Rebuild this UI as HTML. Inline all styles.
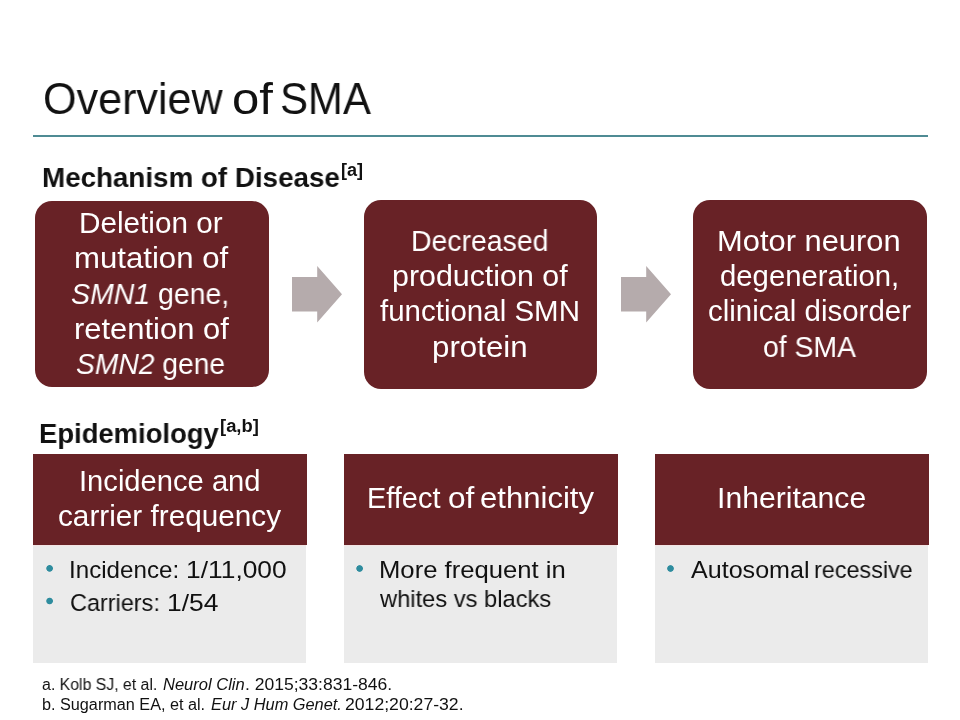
<!DOCTYPE html>
<html lang="en">
<head>
<meta charset="utf-8">
<title>Overview of SMA</title>
<style>
  html, body { margin: 0; padding: 0; background: #fff; }
  body { width: 960px; height: 720px; overflow: hidden; }
  .slide { position: relative; width: 960px; height: 720px; background: #fff; overflow: hidden;
           font-family: "Liberation Sans", sans-serif; color: #111; }
  .slide h1, .slide h2, .slide p, .slide ul, .slide li, .slide header, .slide footer { margin: 0; padding: 0; font-weight: 400; }
  .ln { position: absolute; display: block; white-space: nowrap; line-height: 1; transform-origin: 0 0; will-change: transform; }
  h1.ln { color: #111; }
  h2 .ln { font-weight: 700; }
  h2 sup.ln { vertical-align: baseline; }
  .rule { position: absolute; left: 33px; top: 135px; width: 895px; height: 2px; background: #4f8b94; }
  .box { position: absolute; background: #682226; border-radius: 17px; color: #fff; }
  .arrow { position: absolute; display: block; }
  .panel { position: absolute; top: 454px; width: 274px; height: 208.5px; }
  .panel header { position: absolute; left: 0; top: 0; width: 274px; height: 91px; background: #682226; color: #fff; }
  .panel ul { position: absolute; left: 0; top: 91px; width: 273px; height: 117.5px; background: #ebebeb; list-style: none; border-top: 1px solid #f3e4e4; box-sizing: border-box; }
  .panel li i.dot { position: absolute; width: 10px; height: 10px; }
  footer .ln { color: #111; }
</style>
</head>
<body>
<main class="slide">
  <h1><span class="ln" style="left:43.24px;top:76.70px;font-size:44.0px;transform:scaleX(0.9802)">Overview </span><span class="ln" style="left:231.55px;top:76.70px;font-size:44.0px;transform:scaleX(1.1143)">of </span><span class="ln" style="left:279.99px;top:76.70px;font-size:44.0px;transform:scaleX(0.9534)">SMA</span></h1>
  <div class="rule"></div>

  <h2><span class="ln" style="left:41.74px;top:163.30px;font-size:28.4px;transform:scaleX(0.9778)">Mechanism of Disease</span><sup class="ln" style="left:341.30px;top:161.00px;font-size:18.0px;transform:scaleX(1.005)">[a]</sup></h2>
  <section>
    <div class="box" style="left:35px;top:201px;width:234px;height:186px">
      <p class="ln" style="left:43.58px;top:8.30px;font-size:28.8px;transform:scaleX(1.0315)">Deletion or</p>
      <p class="ln" style="left:38.64px;top:43.40px;font-size:28.8px;transform:scaleX(1.0819)">mutation of</p>
      <p class="ln" style="left:36.46px;top:78.70px;font-size:28.8px;transform:scaleX(0.9888)"><i>SMN1</i> gene,</p>
      <p class="ln" style="left:39.45px;top:113.70px;font-size:28.8px;transform:scaleX(1.0739)">retention of</p>
      <p class="ln" style="left:40.66px;top:148.60px;font-size:28.8px;transform:scaleX(0.9807)"><i>SMN2</i> gene</p>
    </div>
    <svg class="arrow" style="left:292px;top:265px" width="52" height="59" viewBox="0 0 52 59" aria-hidden="true"><polygon points="0,12 25.2,12 25.2,0.9 50,29.2 25.2,57.6 25.2,46.5 0,46.5" fill="#b5abac"/></svg>
    <div class="box" style="left:364px;top:200px;width:233px;height:189px">
      <p class="ln" style="left:46.98px;top:27.20px;font-size:28.8px;transform:scaleX(0.9871)">Decreased</p>
      <p class="ln" style="left:28.19px;top:62.40px;font-size:28.8px;transform:scaleX(1.0547)">production of</p>
      <p class="ln" style="left:15.89px;top:97.20px;font-size:28.8px;transform:scaleX(1.0239)">functional SMN</p>
      <p class="ln" style="left:68.43px;top:132.70px;font-size:28.8px;transform:scaleX(1.0861)">protein</p>
    </div>
    <svg class="arrow" style="left:621px;top:265px" width="52" height="59" viewBox="0 0 52 59" aria-hidden="true"><polygon points="0,12 25.2,12 25.2,0.9 50,29.2 25.2,57.6 25.2,46.5 0,46.5" fill="#b5abac"/></svg>
    <div class="box" style="left:693px;top:200px;width:234px;height:189px">
      <p class="ln" style="left:24.19px;top:27.20px;font-size:28.8px;transform:scaleX(1.072)">Motor neuron</p>
      <p class="ln" style="left:27.33px;top:62.40px;font-size:28.8px;transform:scaleX(1.0177)">degeneration,</p>
      <p class="ln" style="left:15.32px;top:97.20px;font-size:28.8px;transform:scaleX(1.0226)">clinical disorder</p>
      <p class="ln" style="left:70.37px;top:132.70px;font-size:28.8px;transform:scaleX(0.9839)">of SMA</p>
    </div>
  </section>

  <h2><span class="ln" style="left:38.67px;top:419.10px;font-size:28.4px;transform:scaleX(0.9658)">Epidemiology</span><sup class="ln" style="left:219.78px;top:416.90px;font-size:18.0px;transform:scaleX(1.0222)">[a,b]</sup></h2>
  <section>
    <article class="panel" style="left:33px">
      <header>
      <p class="ln" style="left:46.02px;top:12.90px;font-size:28.8px;transform:scaleX(1.0123)">Incidence and</p>
      <p class="ln" style="left:25.41px;top:47.60px;font-size:28.8px;transform:scaleX(1.0324)">carrier frequency</p>
      </header>
      <ul>
        <li><i class="dot" style="left:11px;top:17px;background:radial-gradient(circle at 5.6px 5.4px, #2e8c9e 2.9px, rgba(46,140,158,0) 3.7px)"></i><span class="ln" style="left:36.24px;top:12.30px;font-size:24.1px;transform:scaleX(1.0024)">Incidence: </span><span class="ln" style="left:153.38px;top:12.30px;font-size:24.1px;transform:scaleX(1.0947)">1/11,000</span></li>
        <li><i class="dot" style="left:11px;top:50px;background:radial-gradient(circle at 5.6px 5.0px, #2e8c9e 2.9px, rgba(46,140,158,0) 3.7px)"></i><span class="ln" style="left:36.68px;top:45.00px;font-size:24.1px;transform:scaleX(0.973)">Carriers: </span><span class="ln" style="left:134.28px;top:45.00px;font-size:24.1px;transform:scaleX(1.0966)">1/54</span></li>
      </ul>
    </article>
    <article class="panel" style="left:344px">
      <header>
      <p class="ln" style="left:22.64px;top:29.80px;font-size:28.8px;transform:scaleX(1.0049)">Effect </p>
      <p class="ln" style="left:103.63px;top:29.80px;font-size:28.8px;transform:scaleX(1.0989)">of </p>
      <p class="ln" style="left:136.15px;top:29.80px;font-size:28.8px;transform:scaleX(1.0791)">ethnicity</p>
      </header>
      <ul>
        <li><i class="dot" style="left:10px;top:17px;background:radial-gradient(circle at 5.6px 5.5px, #2e8c9e 2.9px, rgba(46,140,158,0) 3.7px)"></i><span class="ln" style="left:34.97px;top:12.30px;font-size:24.1px;transform:scaleX(1.0645)">More frequent in </span><span class="ln" style="left:36.20px;top:41.30px;font-size:24.1px;transform:scaleX(0.9835)">whites vs blacks</span></li>
      </ul>
    </article>
    <article class="panel" style="left:655px">
      <header>
      <p class="ln" style="left:62.22px;top:30.10px;font-size:28.8px;transform:scaleX(1.0469)">Inheritance</p>
      </header>
      <ul>
        <li><i class="dot" style="left:10px;top:17px;background:radial-gradient(circle at 5.5px 5.5px, #2e8c9e 2.9px, rgba(46,140,158,0) 3.7px)"></i><span class="ln" style="left:35.60px;top:12.30px;font-size:24.1px;transform:scaleX(1.0414)">Autosomal </span><span class="ln" style="left:158.54px;top:12.30px;font-size:24.1px;transform:scaleX(0.9703)">recessive</span></li>
      </ul>
    </article>
  </section>

  <footer>
    <p><span class="ln" style="left:41.96px;top:676.60px;font-size:16.0px;transform:scaleX(0.9899)">a. Kolb SJ, et al. </span><span class="ln" style="left:162.78px;top:676.60px;font-size:16.0px;transform:scaleX(1.0321)"><i>Neurol Clin</i></span><span class="ln" style="left:245.06px;top:676.60px;font-size:16.0px;transform:scaleX(1.0956)">. 2015;33:831-846.</span></p>
    <p><span class="ln" style="left:41.69px;top:696.70px;font-size:16.0px;transform:scaleX(1.0132)">b. Sugarman EA, et al. </span><span class="ln" style="left:211.19px;top:696.70px;font-size:16.0px;transform:scaleX(1.0223)"><i>Eur J Hum Genet.</i> </span><span class="ln" style="left:345.47px;top:696.70px;font-size:16.0px;transform:scaleX(1.1014)">2012;20:27-32.</span></p>
  </footer>
</main>
</body>
</html>
